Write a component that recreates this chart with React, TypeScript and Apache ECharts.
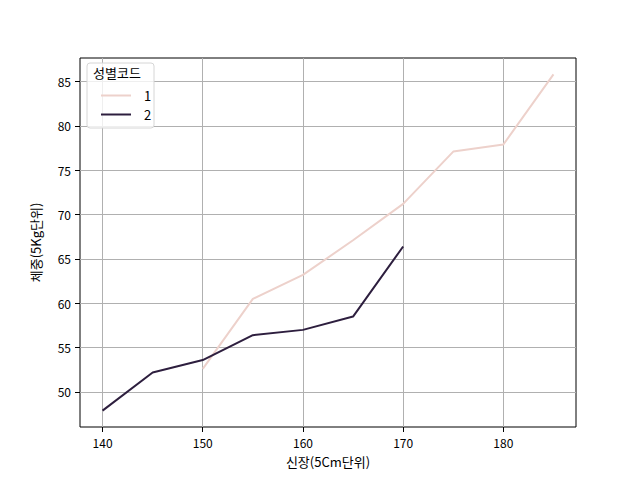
import { useEffect, useRef } from "react";
import * as echarts from "echarts";

const heights1 = [150, 155, 160, 165, 170, 175, 180, 185];
const weights1 = [52.6, 60.5, 63.2, 67.1, 71.2, 77.1, 77.9, 85.8];
const heights2 = [140, 145, 150, 155, 160, 165, 170];
const weights2 = [47.9, 52.2, 53.6, 56.4, 57.0, 58.5, 66.4];
const xTicks = [140, 150, 160, 170, 180];
const yTicks = [50, 55, 60, 65, 70, 75, 80, 85];
const seriesNames = ["1", "2"];

const FONT = "'Noto Sans CJK KR', 'Noto Sans', sans-serif";

export default function App() {
  const ref = useRef<HTMLDivElement>(null);

  useEffect(() => {
    if (!ref.current) return;
    const chart = echarts.init(ref.current, null, { renderer: "svg" });

    const axisCommon = {
      type: "value" as const,
      axisLine: { show: false },
      axisTick: { show: true, inside: false, length: 5, lineStyle: { color: "#000", width: 1 } },
      splitLine: { show: true, lineStyle: { color: "#b0b0b0", width: 1 } },
      nameTextStyle: { fontFamily: FONT, fontSize: 13, color: "#000" },
    };

    chart.setOption({
      animation: false,
      textStyle: { fontFamily: FONT },
      grid: {
        left: 80,
        right: 64,
        top: 58,
        bottom: 53,
        show: true,
        borderColor: "#000",
        borderWidth: 1,
        backgroundColor: "transparent",
      },
      xAxis: {
        ...axisCommon,
        min: 137.75,
        max: 187.25,
        axisTick: { ...axisCommon.axisTick, customValues: xTicks },
        axisLabel: { customValues: xTicks, fontSize: 12, color: "#000", margin: 9, fontFamily: FONT },
        name: "신장(5Cm단위)",
        nameLocation: "middle",
        nameGap: 28,
      },
      yAxis: {
        ...axisCommon,
        min: 46.05,
        max: 87.65,
        axisTick: { ...axisCommon.axisTick, customValues: yTicks },
        axisLabel: { customValues: yTicks, fontSize: 12, color: "#000", margin: 9, fontFamily: FONT },
        name: "체중(5Kg단위)",
        nameLocation: "middle",
        nameGap: 38,
        nameRotate: 90,
      },
      legend: {
        orient: "vertical",
        left: 96,
        top: 84,
        icon: "rect",
        itemWidth: 30,
        itemHeight: 2,
        itemGap: 6,
        data: seriesNames,
        textStyle: { fontFamily: FONT, fontSize: 13, color: "#000", padding: [0, 0, 0, 8] },
        z: 5,
      },
      graphic: [
        {
          type: "rect",
          z: 4,
          shape: { x: 87, y: 63, width: 67, height: 65, r: 3 },
          style: { fill: "rgba(255,255,255,0.8)", stroke: "#d6d6d6", lineWidth: 1 },
        },
        {
          type: "text",
          z: 5,
          x: 93,
          y: 66,
          style: { text: "성별코드", fontFamily: FONT, fontSize: 13, fill: "#000" },
        },
      ],
      series: [
        {
          name: seriesNames[0],
          type: "line",
          symbol: "none",
          data: heights1.map((h, i) => [h, weights1[i]]),
          lineStyle: { color: "#edd1cb", width: 2 },
          itemStyle: { color: "#edd1cb" },
        },
        {
          name: seriesNames[1],
          type: "line",
          symbol: "none",
          data: heights2.map((h, i) => [h, weights2[i]]),
          lineStyle: { color: "#2d1e3e", width: 2 },
          itemStyle: { color: "#2d1e3e" },
        },
      ],
    });

    return () => {
      chart.dispose();
    };
  }, []);

  return (
    <div
      ref={ref}
      style={{ position: "absolute", left: 0, top: 0, width: 640, height: 480, background: "#fff" }}
    />
  );
}
